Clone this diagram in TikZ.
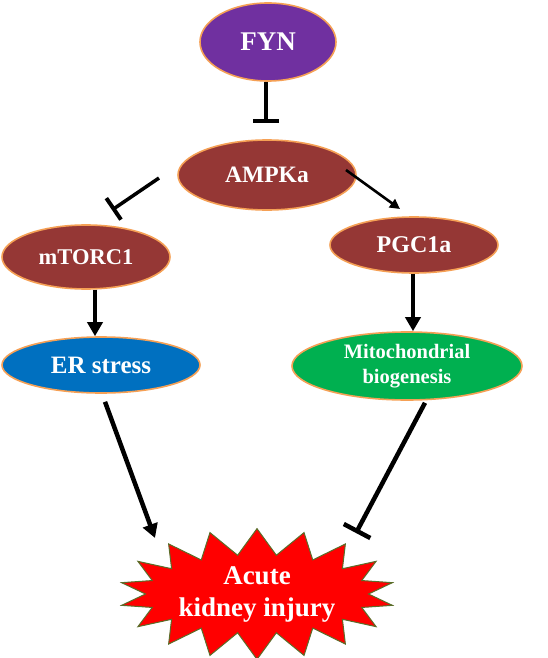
\documentclass[tikz,border=0pt]{standalone}
\usepackage{fontspec}
\setmainfont{Liberation Serif}
\usetikzlibrary{arrows.meta,shapes.geometric,shapes.symbols}
\definecolor{fynpurple}{HTML}{7030A0}
\definecolor{brownred}{HTML}{953735}
\definecolor{erblue}{HTML}{0070C0}
\definecolor{mitogreen}{HTML}{00B050}
\definecolor{rimorange}{HTML}{F5A055}
\definecolor{starrim}{HTML}{5A6E2A}
\begin{document}
\begin{tikzpicture}[x=1pt,y=-1pt,
  oval/.style={ellipse,draw=rimorange,line width=1.6pt,text=white,font=\bfseries,inner sep=0pt},
  thinarrow/.style={line width=2.6pt,-{Triangle[length=10pt,width=10pt]}},
  thickarrow/.style={line width=4.5pt,-{Triangle[length=14pt,width=15pt]}},
  thininh/.style={line width=3.5pt,-{Bar[width=26pt,line width=4pt]}},
  thickinh/.style={line width=4.5pt,-{Bar[width=30pt,line width=4.5pt]}}]
\useasboundingbox (0,0) rectangle (548,658);
\node[oval,fill=fynpurple,minimum width=136pt,minimum height=78pt,font=\bfseries\fontsize{27}{30}\selectfont] (fyn) at (268,42) {FYN};
\node[oval,fill=brownred,minimum width=178pt,minimum height=70pt,font=\bfseries\fontsize{23.5}{26}\selectfont] (ampk) at (267,175) {AMPKa};
\node[oval,fill=brownred,minimum width=168pt,minimum height=64pt,font=\bfseries\fontsize{22.5}{26}\selectfont] (mtor) at (86,257) {mTORC1};
\node[oval,fill=brownred,minimum width=168pt,minimum height=56pt,font=\bfseries\fontsize{24}{26}\selectfont] (pgc) at (414,245) {PGC1a};
\node[oval,fill=erblue,minimum width=198pt,minimum height=56pt,font=\bfseries\fontsize{25}{28}\selectfont] (er) at (101,365) {ER stress};
\node[oval,fill=mitogreen,minimum width=230pt,minimum height=68pt,font=\bfseries\fontsize{20.5}{25}\selectfont,align=center] (mito) at (407,366) {Mitochondrial\\biogenesis};
\node[starburst,starburst points=18,starburst point height=26pt,random starburst=0,fill=red,draw=starrim,line width=1pt,text=white,align=center,minimum width=275pt,minimum height=125pt,inner sep=0pt,font=\bfseries\fontsize{27}{32}\selectfont] (aki) at (257,594) {Acute\\kidney injury};
% connectors
\coordinate (fynbar) at (266,123);
\draw[thininh,line width=4pt] (fyn.south -| fynbar) -- (fynbar);
\coordinate (mtorbar) at (112,210);
\draw[thininh] (ampk) ++(-108,3) coordinate (ampkL) (ampkL) -- (mtorbar);
\coordinate (pgctip) at (400,209);
\coordinate (ampkR) at (346,170);
\draw[thinarrow] (ampkR) -- (pgctip);
\draw[thickarrow] (mtor.south -| 95,0) -- (er.north -| 95,0);
\draw[thickarrow] (pgc.south -| 413,0) -- (mito.north -| 413,0);
\coordinate (akiL) at (155,538);
\coordinate (akiR) at (356,533);
\draw[thickarrow] (er.south -| 105,0) ++(0,8) -- (akiL);
\draw[thickinh] (mito.south -| 425,0) ++(0,2) -- (akiR);
\end{tikzpicture}
\end{document}
